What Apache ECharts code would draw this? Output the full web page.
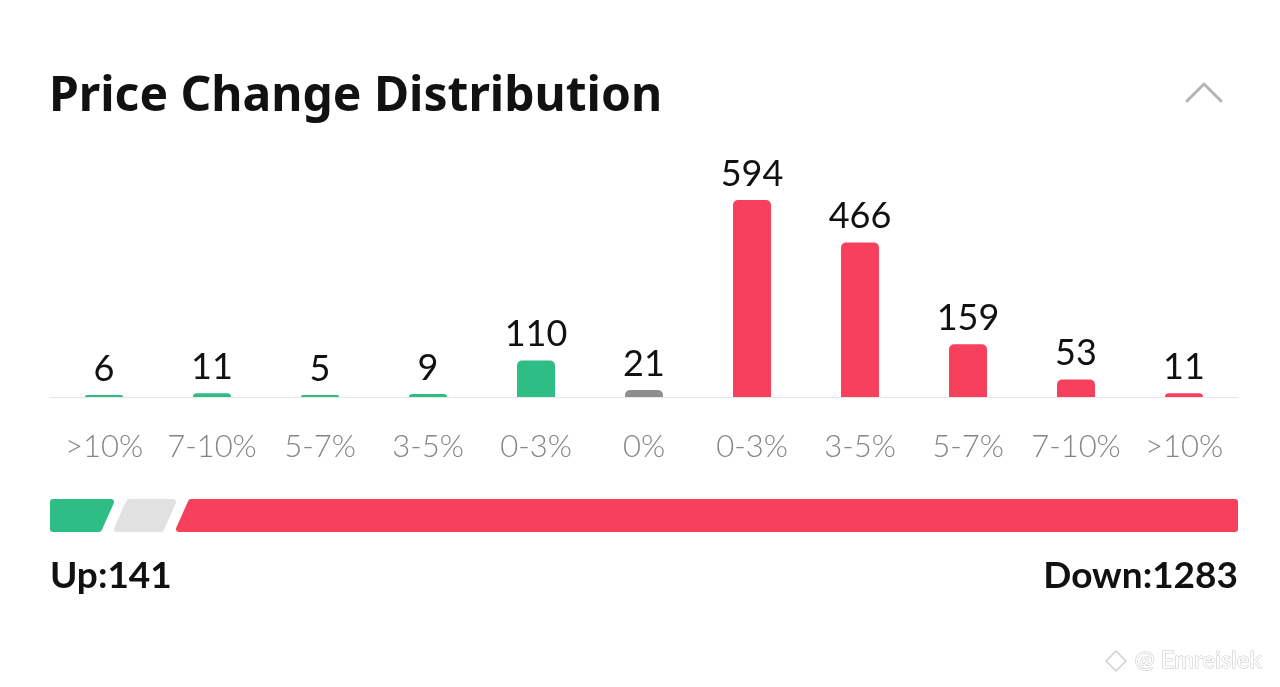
<!DOCTYPE html>
<html>
<head>
<meta charset="utf-8">
<script src="https://cdn.jsdelivr.net/npm/echarts@6/dist/echarts.min.js"></script>
<style>
  html, body { margin: 0; padding: 0; background: #ffffff; }
  #chart { width: 1280px; height: 687px; }
</style>
</head>
<body>
<div id="chart"></div>
<script>
// ---- data ----
const categories = ['>10%', '7-10%', '5-7%', '3-5%', '0-3%', '0%', '0-3%', '3-5%', '5-7%', '7-10%', '>10%'];
const counts = [6, 11, 5, 9, 110, 21, 594, 466, 159, 53, 11];
const groups = ['up', 'up', 'up', 'up', 'up', 'flat', 'down', 'down', 'down', 'down', 'down'];
const upCount = 141;
const flatCount = 21;
const downCount = 1283;
const titleText = 'Price Change Distribution';
const watermarkText = '@ Emreislek';

// ---- styles ----
const FONT = 'Lato, "Noto Sans", sans-serif';
const TITLE_FONT = '"Noto Sans", Lato, sans-serif';
const groupColors = { up: '#2EBD85', flat: '#8E8E8E', down: '#F6405C' };
const chipColors = { up: '#2EBD85', flat: '#E1E1E1', down: '#F6405C' };

const chart = echarts.init(document.getElementById('chart'), null, { renderer: 'canvas' });

const barData = counts.map((v, i) => ({
  value: v,
  itemStyle: { color: groupColors[groups[i]] }
}));

const splitTotal = upCount + flatCount + downCount;

function renderSplit(params, api) {
  const cs = params.coordSys;
  const y0 = cs.y, h = cs.height;
  const left = api.coord([0, 0])[0];
  const right = api.coord([splitTotal, 0])[0];
  const skew = 12, gap = 12, upW = 64, flatW = 50, r = 3;
  const inset = r;
  function poly(pts, color) {
    return {
      type: 'polygon',
      shape: { points: pts },
      style: { fill: color, stroke: color, lineWidth: r * 2, lineJoin: 'round' }
    };
  }
  const yt = y0 + inset, yb = y0 + h - inset;
  const uTopR = left + upW;
  const up = poly([[left + inset, yt], [uTopR - inset, yt], [uTopR - skew - inset, yb], [left + inset, yb]], chipColors.up);
  const fTopL = uTopR + gap;
  const fTopR = fTopL + flatW;
  const flat = poly([[fTopL + inset, yt], [fTopR - inset, yt], [fTopR - skew - inset, yb], [fTopL - skew + inset, yb]], chipColors.flat);
  const dTopL = fTopR + gap;
  const down = poly([[dTopL + inset, yt], [right - inset, yt], [right - inset, yb], [dTopL - skew + inset, yb]], chipColors.down);
  return { type: 'group', children: [up, flat, down] };
}

const option = {
  backgroundColor: '#ffffff',
  animation: false,
  title: {
    text: titleText,
    left: 44,
    top: 61,
    textStyle: { fontFamily: TITLE_FONT, fontSize: 48, fontWeight: 'bold', color: '#111111', lineHeight: 62 }
  },
  grid: [
    { left: 50, right: 42, top: 200, bottom: 290, containLabel: false },
    { left: 50, right: 42, top: 499, height: 33, containLabel: false }
  ],
  xAxis: [
    {
      type: 'category',
      gridIndex: 0,
      data: categories,
      axisLine: { show: true, lineStyle: { color: '#E6E6E6', width: 1 } },
      axisTick: { show: false },
      axisLabel: { color: '#858585', fontFamily: FONT, fontSize: 31, fontWeight: 300, margin: 34, interval: 0 }
    },
    { type: 'value', gridIndex: 1, min: 0, max: splitTotal, show: false }
  ],
  yAxis: [
    { type: 'value', gridIndex: 0, min: 0, max: 'dataMax', show: false, splitLine: { show: false } },
    { type: 'category', gridIndex: 1, data: ['split'], show: false }
  ],
  series: [
    {
      type: 'bar',
      xAxisIndex: 0,
      yAxisIndex: 0,
      data: barData,
      barWidth: 38,
      barMinHeight: 2,
      itemStyle: { borderRadius: [5, 5, 0, 0] },
      label: {
        show: true,
        position: 'top',
        distance: 8,
        color: '#111111',
        fontFamily: FONT,
        fontSize: 36
      }
    },
    {
      type: 'custom',
      xAxisIndex: 1,
      yAxisIndex: 1,
      renderItem: renderSplit,
      data: [[upCount, flatCount, downCount]],
      silent: true
    }
  ],
  graphic: [
    {
      type: 'polyline',
      shape: { points: [[1187, 101], [1204, 84], [1221, 101]] },
      style: { stroke: '#B4B4B4', lineWidth: 3, fill: null, lineCap: 'round', lineJoin: 'round' }
    },
    {
      type: 'text',
      left: 50,
      top: 558,
      style: { text: 'Up:' + upCount, fill: '#111111', font: 'bold 37px ' + FONT }
    },
    {
      type: 'text',
      right: 42,
      top: 558,
      style: { text: 'Down:' + downCount, fill: '#111111', font: 'bold 37px ' + FONT }
    },
    {
      type: 'polygon',
      shape: { points: [[1116, 651], [1126, 661], [1116, 671], [1106, 661]] },
      style: { fill: '#ffffff', stroke: '#D0D0D0', lineWidth: 1.5 }
    },
    {
      type: 'text',
      left: 1134,
      top: 648,
      style: { text: watermarkText, fill: '#ffffff', stroke: '#C4C4C4', lineWidth: 1, font: '24px ' + FONT }
    }
  ]
};

chart.setOption(option);
</script>
</body>
</html>
